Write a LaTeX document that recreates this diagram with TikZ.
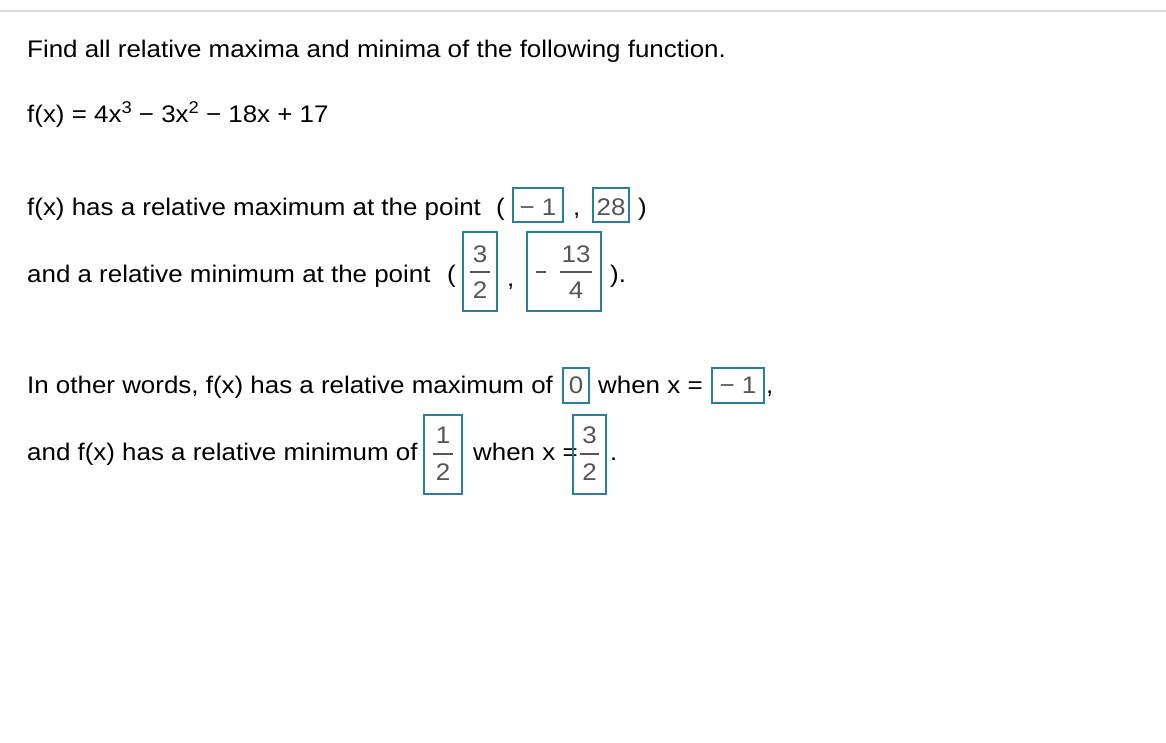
\documentclass[tikz,border=0pt]{standalone}
\usepackage{fontspec}
\setmainfont[FakeStretch=1.08]{Liberation Sans}
\definecolor{teal1}{HTML}{2A7E9C}
\definecolor{gtxt}{HTML}{555555}
\definecolor{topl}{HTML}{D5D8E0}
\newcommand{\supx}[1]{\raisebox{9pt}{\fontsize{17}{20}\selectfont #1}}
\begin{document}
\begin{tikzpicture}[x=1pt,y=-1pt,
  txt/.style={anchor=base west,inner sep=0pt,font=\fontsize{24}{28}\selectfont},
  ans/.style={anchor=base,inner sep=0pt,text=gtxt,font=\fontsize{24}{28}\selectfont},
  abox/.style={draw=teal1,line width=1.6pt},
  fbar/.style={draw=gtxt,line width=1.2pt}]
\useasboundingbox (0,0) rectangle (1166,742);
\draw[topl,line width=1.5pt] (0,11) -- (1166,11);
\node[txt] (l1) at (27,57) {Find all relative maxima and minima of the following function.};
\node[txt] (f1) at (27,122) {f(x) = 4x\supx{3} − 3x\supx{2} − 18x + 17};
% line 3
\node[txt] (l3) at (27,215) {f(x) has a relative maximum at the point};
\node[txt] (o1) at (496,215) {(};
\draw[abox] (513,188) rectangle (563,222);
\node[ans] (a1) at (538,215) {− 1};
\node[txt] (c1) at (573,215) {,};
\draw[abox] (593,188) rectangle (629,222);
\node[ans] (a2) at (611,215) {28};
\node[txt] (p1) at (638,215) {)};
% line 4
\node[txt] (l4) at (27,282) {and a relative minimum at the point};
\node[txt] (o2) at (447,282) {(};
\draw[abox] (463,232) rectangle (497,311);
\node[ans] (n1) at (480,262) {3};
\draw[fbar] (470,272) -- (490,272);
\node[ans] (d1) at (480,298) {2};
\node[txt] (c2) at (507,286) {,};
\draw[abox] (527,232) rectangle (601,311);
\node[ans] (n2) at (576,262) {13};
\draw[fbar] (560,272) -- (592,272);
\node[ans] (d2) at (576,298) {4};
\draw[fbar] (536,272) -- (546,272);
\node[txt] (p2) at (610,282) {).};
% line 5
\node[txt] (l5) at (27,393) {In other words, f(x) has a relative maximum of};
\draw[abox] (563,368) rectangle (589,403);
\node[ans] (a3) at (576,393) {0};
\node[txt] (w1) at (598,393) {when x =};
\draw[abox] (712,368) rectangle (764,403);
\node[ans] (a4) at (738,393) {− 1};
\node[txt] (c3) at (766,393) {,};
% line 6
\node[txt] (l6) at (27,460) {and f(x) has a relative minimum of};
\draw[abox] (424,415) rectangle (462,494);
\node[ans] (n3) at (443,443) {1};
\draw[fbar] (433,454) -- (453,454);
\node[ans] (d3) at (443,480) {2};
\node[txt] (w2) at (473,460) {when x =};
\draw[abox] (573,415) rectangle (606,494);
\node[ans] (n4) at (589.5,443) {3};
\draw[fbar] (580,454) -- (599,454);
\node[ans] (d4) at (589.5,480) {2};
\node[txt] (pd) at (610,460) {.};
\end{tikzpicture}
\end{document}
